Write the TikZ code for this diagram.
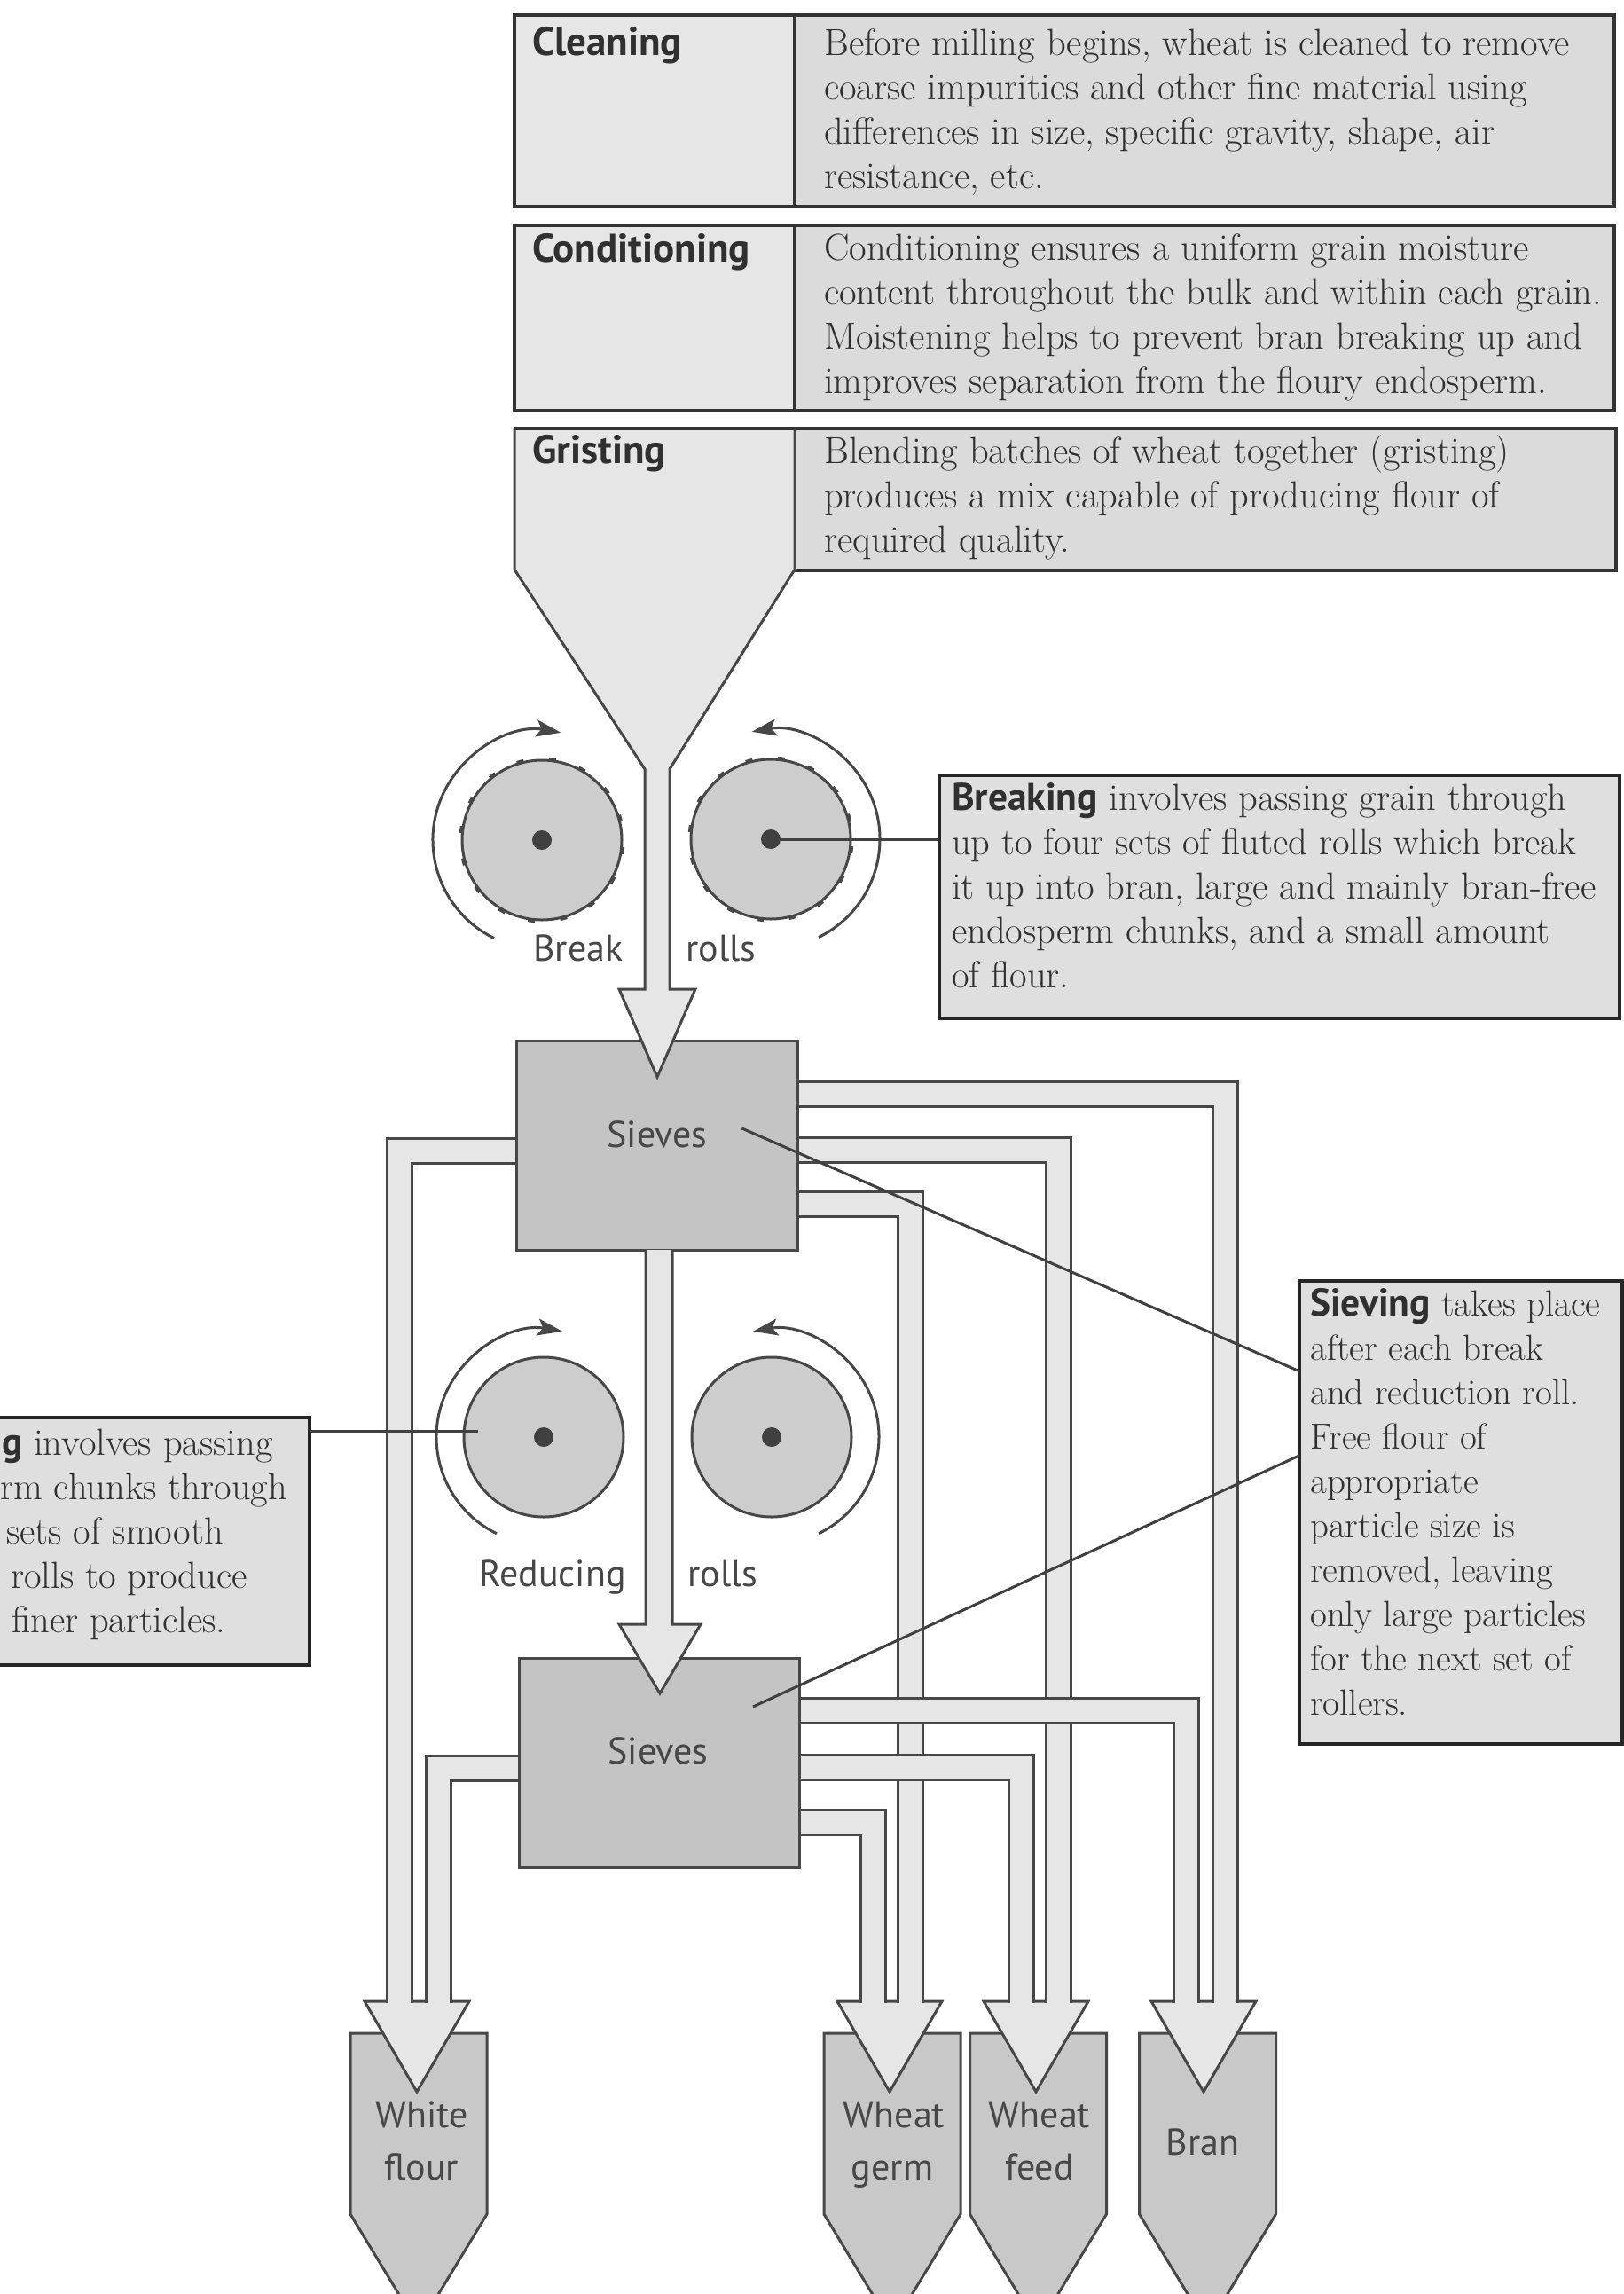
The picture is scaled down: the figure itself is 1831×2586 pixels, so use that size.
\documentclass[tikz,border=0pt]{standalone}
\usepackage{fontspec}
\setsansfont{PT Sans}
\usetikzlibrary{arrows.meta,calc}
\definecolor{ln}{HTML}{474747}
\definecolor{txt}{HTML}{303030}
\definecolor{pipe}{HTML}{E6E6E6}
\definecolor{sieve}{HTML}{C4C4C4}
\definecolor{roll}{HTML}{CDCDCD}
\definecolor{bin}{HTML}{C8C8C8}
\definecolor{cellA}{HTML}{E6E6E6}
\definecolor{cellB}{HTML}{DBDBDB}
\definecolor{note}{HTML}{DFDFDF}
\newcommand\flowpipe[1]{\draw[pipeout] #1; \draw[pipein] #1;}
\newcommand\inbold[1]{\textsf{\bfseries\fontsize{43.5}{50}\selectfont #1}}
\begin{document}
\begin{tikzpicture}[x=1pt,y=-1pt,
  body/.style={anchor=base west, inner sep=0pt, text=txt, font=\fontsize{42.5}{50}\selectfont},
  sbody/.style={body, font=\fontsize{41}{50}\selectfont},
  lab/.style={anchor=base west, inner sep=0pt, text=txt, font=\sffamily\bfseries\fontsize{45}{50}\selectfont},
  slab/.style={anchor=base, inner sep=0pt, text=ln, font=\sffamily\fontsize{42}{50}\selectfont},
  outl/.style={draw=ln, line width=3pt},
  topbox/.style={draw=black!80, line width=3.5pt},
  notebox/.style={draw=black!85, line width=4.5pt, fill=note, inner sep=0pt, outer sep=0pt},
  sievebox/.style={draw=ln, line width=3pt, fill=sieve, inner sep=0pt, outer sep=0pt},
  rollnode/.style={circle, draw=ln, line width=3pt, fill=roll, minimum size=180pt, inner sep=0pt, outer sep=0pt},
  dotnode/.style={circle, fill=black!75, minimum size=22pt, inner sep=0pt, outer sep=0pt},
  pipeout/.style={draw=ln, line width=31pt},
  pipein/.style={draw=pipe, line width=25pt},
  conn/.style={draw=black!75, line width=3pt},
  arcln/.style={draw=ln, line width=3pt, -{Stealth[length=28pt,width=19pt,inset=6pt]}},
  flute/.style={draw=ln, line width=4pt}
]
\useasboundingbox (0,0) rectangle (1831,2586);
\fill[white] (0,0) rectangle (1831,2586);
\clip (0,0) rectangle (1831,2586);

% ---------- top boxes ----------
\filldraw[topbox, fill=cellA] (580,17) rectangle (896,233);
\filldraw[topbox, fill=cellB] (896,17) rectangle (1820,233);
\filldraw[topbox, fill=cellA] (580,254) rectangle (896,463);
\filldraw[topbox, fill=cellB] (896,254) rectangle (1820,463);
\filldraw[topbox, fill=cellB] (896,483) rectangle (1822,643);

\node[lab] (clL) at (600,62) {Cleaning};
\node[body] (cl1) at (929,62) {Before milling begins, wheat is cleaned to remove};
\node[body] (cl2) at (929,112) {coarse impurities and other fine material using};
\node[body] (cl3) at (929,162) {differences in size, specific gravity, shape, air};
\node[body] (cl4) at (929,212) {resistance, etc.};

\node[lab] (coL) at (600,295) {Conditioning};
\node[body] (co1) at (929,293) {Conditioning ensures a uniform grain moisture};
\node[body] (co2) at (929,343) {content throughout the bulk and within each grain.};
\node[body] (co3) at (929,393) {Moistening helps to prevent bran breaking up and};
\node[body] (co4) at (929,443) {improves separation from the floury endosperm.};

% ---------- bins ----------
\foreach \c in {472,1006,1170.5,1361.5}{
  \filldraw[outl, fill=bin] (\c-77,2292) -- (\c+77,2292) -- (\c+77,2496) -- (\c,2623) -- (\c-77,2496) -- cycle;
}
% ---------- arrow heads into bins ----------
\foreach \c in {470,1003,1168,1357}{
  \filldraw[outl, fill=pipe, line join=miter] (\c-59,2256) -- (\c+59,2256) -- (\c,2358) -- cycle;
}

% ---------- pipes from upper sieves ----------
\flowpipe{(590,1297.5) -- (450,1297.5) -- (450,2257.5)}
\flowpipe{(890,1357.5) -- (1026,1357.5) -- (1026,2257.5)}
\flowpipe{(890,1296) -- (1193,1296) -- (1193,2257.5)}
\flowpipe{(890,1233.5) -- (1381.5,1233.5) -- (1381.5,2257.5)}
% ---------- pipes from lower sieves ----------
\flowpipe{(595,1993) -- (494.5,1993) -- (494.5,2257.5)}
\flowpipe{(892,2054) -- (984,2054) -- (984,2257.5)}
\flowpipe{(892,1992) -- (1151.5,1992) -- (1151.5,2257.5)}
\flowpipe{(892,1928.5) -- (1337.5,1928.5) -- (1337.5,2257.5)}

% ---------- sieves ----------
\node[sievebox, minimum width=317pt, minimum height=236pt] (sv1) at (740.5,1291) {};
\node[sievebox, minimum width=316pt, minimum height=236pt] (sv2) at (743,1987) {};
\node[slab] (sv1t) at (741,1293) {Sieves};
\node[slab] (sv2t) at (742,1988) {Sieves};

% ---------- funnel (gristing) with stem ----------
\filldraw[outl, fill=cellA, line join=miter] (580,483) -- (896,483) -- (896,642) -- (755,867) -- (755,1115) -- (784,1115) -- (741,1214) -- (698,1115) -- (727,1115) -- (727,867) -- (580,642) -- cycle;
\draw[topbox] (580,483) -- (896,483);
\node[lab] (grL) at (600,522) {Gristing};
\node[body] (gr1) at (929,522) {Blending batches of wheat together (gristing)};
\node[body] (gr2) at (929,572) {produces a mix capable of producing flour of};
\node[body] (gr3) at (929,622) {required quality.};

% ---------- stem between sieves ----------
\filldraw[outl, fill=pipe, line join=miter] (728,1409) -- (728,1831) -- (698,1831) -- (744,1909) -- (790,1831) -- (758,1831) -- (758,1409);

% ---------- break rolls ----------
\node[rollnode] (rollBL) at (611,947) {};
\node[rollnode] (rollBR) at (869,946) {};
\foreach \r in {rollBL,rollBR}{
  \foreach \a in {5,27,50,72,95,117,140,162,185,207,230,252,275,297,320,342}{
    \draw[flute] ($(\r.center)+(\a:91.5)$) arc[start angle=\a, end angle=\a+5, radius=91.5];
  }
}
\node[dotnode] (dotBL) at (rollBL.center) {};
\node[dotnode] (dotBR) at (rollBR.center) {};
\draw[arcln] ($(rollBL.center)+(116:123)$) arc[start angle=116, end angle=280, radius=123];
\draw[arcln] ($(rollBR.center)+(64:123)$) arc[start angle=64, end angle=-100, radius=123];
\node[slab] (brkA) at (652,1083) {Break};
\node[slab] (brkB) at (813,1083) {rolls};

% ---------- reducing rolls ----------
\node[rollnode] (rollRL) at (613,1620) {};
\node[rollnode] (rollRR) at (870,1620) {};
\node[dotnode] (dotRL) at (rollRL.center) {};
\node[dotnode] (dotRR) at (rollRR.center) {};
\draw[arcln] ($(rollRL.center)+(116:121)$) arc[start angle=116, end angle=280, radius=121];
\draw[arcln] ($(rollRR.center)+(64:121)$) arc[start angle=64, end angle=-100, radius=121];
\node[slab] (redA) at (623,1788) {Reducing};
\node[slab] (redB) at (815,1788) {rolls};

% ---------- bin labels ----------
\node[slab] (wf1) at (476,2398) {White};
\node[slab] (wf2) at (475,2457) {flour};
\node[slab] (wg1) at (1008,2398) {Wheat};
\node[slab] (wg2) at (1006,2457) {germ};
\node[slab] (wd1) at (1172,2398) {Wheat};
\node[slab] (wd2) at (1172,2457) {feed};
\node[slab] (bn1) at (1356,2429) {Bran};

% ---------- Breaking note ----------
\node[notebox, minimum width=767pt, minimum height=274pt] (brk) at (1442.5,1011) {};
\node[body] (bk1) at (1073,913) {\inbold{Breaking} involves passing grain through};
\node[body] (bk2) at (1073,963) {up to four sets of fluted rolls which break};
\node[body] (bk3) at (1073,1013) {it up into bran, large and mainly bran-free};
\node[body] (bk4) at (1073,1063) {endosperm chunks, and a small amount};
\node[body] (bk5) at (1073,1113) {of flour.};
\draw[conn] (dotBR.east) -- (dotBR.east -| brk.west);

% ---------- Reducing note ----------
\node[notebox, minimum width=369pt, minimum height=279pt] (red) at (164.5,1737.5) {};
\node[body] (rd1) at (2,1640) {\inbold{g} involves passing};
\node[body] (rd2) at (0,1690) {rm chunks through};
\node[body] (rd3) at (7,1740) {sets of smooth};
\node[body] (rd4) at (12,1790) {rolls to produce};
\node[body] (rd5) at (13,1840) {finer particles.};
\coordinate (redEnd) at (539,1613);
\draw[conn] (red.east |- redEnd) -- (redEnd);

% ---------- Sieving note ----------
\node[notebox, minimum width=364pt, minimum height=522pt] (sievn) at (1647,1705) {};
\node[sbody] (sg1) at (1477,1483) {\inbold{Sieving} takes place};
\node[sbody] (sg2) at (1477,1533) {after each break};
\node[sbody] (sg3) at (1477,1583) {and reduction roll.};
\node[sbody] (sg4) at (1477,1633) {Free flour of};
\node[sbody] (sg5) at (1477,1683) {appropriate};
\node[sbody] (sg6) at (1477,1733) {particle size is};
\node[sbody] (sg7) at (1477,1783) {removed, leaving};
\node[sbody] (sg8) at (1477,1833) {only large particles};
\node[sbody] (sg9) at (1477,1883) {for the next set of};
\node[sbody] (sg10) at (1477,1933) {rollers.};
\coordinate (svA) at ($(sv1.center)+(96,-19)$);
\coordinate (svB) at ($(sv2.center)+(106,-63)$);
\draw[conn] (svA) -- ($(sievn.north west)!0.195!(sievn.south west)$);
\draw[conn] (svB) -- ($(sievn.north west)!0.377!(sievn.south west)$);
\end{tikzpicture}
\end{document}
